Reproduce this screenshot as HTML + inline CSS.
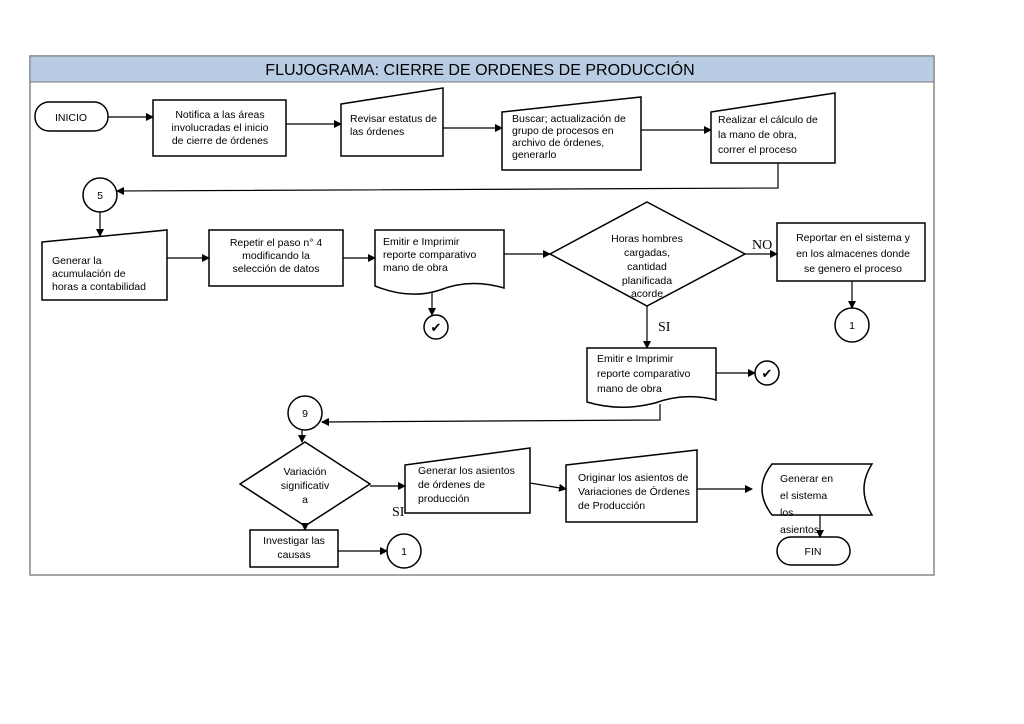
<!DOCTYPE html>
<html><head><meta charset="utf-8"><style>
html,body{margin:0;padding:0;background:#fff;width:1024px;height:724px;overflow:hidden}
svg text{font-family:"Liberation Sans",sans-serif;font-size:10.5px;fill:#000}
.s{font-family:"Liberation Serif",serif;font-size:14px}
</style></head><body>
<svg width="1024" height="724" viewBox="0 0 1024 724" xmlns="http://www.w3.org/2000/svg">
<defs><marker id="a" markerWidth="8" markerHeight="8" refX="7" refY="4" orient="auto" markerUnits="userSpaceOnUse"><path d="M0,0 L8,4 L0,8 z" fill="#000"/></marker></defs>
<rect x="30" y="56" width="904" height="519" fill="#fff" stroke="#888" stroke-width="1.5"/>
<rect x="30" y="56" width="904" height="26" fill="#b8cce4" stroke="#777" stroke-width="1"/>
<text x="480" y="75" text-anchor="middle" style="font-size:16px">FLUJOGRAMA: CIERRE DE ORDENES DE PRODUCCIÓN</text>
<g fill="#fff" stroke="#000" stroke-width="1.5">
<rect x="35" y="102" width="73" height="29" rx="14"/>
<rect x="153" y="100" width="133" height="56"/>
<path d="M341,104 L443,88 L443,156 L341,156 Z"/>
<path d="M502,112 L641,97 L641,170 L502,170 Z"/>
<path d="M711,112 L835,93 L835,163 L711,163 Z"/>
<circle cx="100" cy="195" r="17"/>
<path d="M42,242 L167,230 L167,300 L42,300 Z"/>
<rect x="209" y="230" width="134" height="56"/>
<path d="M375,230 L504,230 L504,288 Q470,278 440,290 Q410,300 375,286 Z"/>
<path d="M647,202 L745,254 L647,306 L550,254 Z"/>
<rect x="777" y="223" width="148" height="58"/>
<circle cx="852" cy="325" r="17"/>
<circle cx="436" cy="327" r="12"/>
<path d="M587,348 L716,348 L716,400 Q685,392 655,403 Q620,412 587,402 Z"/>
<circle cx="767" cy="373" r="12"/>
<circle cx="305" cy="413" r="17"/>
<path d="M305,442 L370,484 L305,526 L240,484 Z"/>
<path d="M405,465 L530,448 L530,513 L405,513 Z"/>
<path d="M566,465 L697,450 L697,522 L566,522 Z"/>
<path d="M772,464 L872,464 Q856,489 872,515 L772,515 Q752,489 772,464 Z"/>
<rect x="777" y="537" width="73" height="28" rx="14"/>
<rect x="250" y="530" width="88" height="37"/>
<circle cx="404" cy="551" r="17"/>
</g>
<g stroke="#000" stroke-width="1.2" fill="none">
<line x1="108" y1="117" x2="153" y2="117" marker-end="url(#a)"/>
<line x1="286" y1="124" x2="341" y2="124" marker-end="url(#a)"/>
<line x1="443" y1="128" x2="502" y2="128" marker-end="url(#a)"/>
<line x1="641" y1="130" x2="711" y2="130" marker-end="url(#a)"/>
<polyline points="778,163 778,188 117,191" marker-end="url(#a)"/>
<line x1="100" y1="212" x2="100" y2="236" marker-end="url(#a)"/>
<line x1="167" y1="258" x2="209" y2="258" marker-end="url(#a)"/>
<line x1="343" y1="258" x2="375" y2="258" marker-end="url(#a)"/>
<line x1="504" y1="254" x2="550" y2="254" marker-end="url(#a)"/>
<line x1="745" y1="254" x2="777" y2="254" marker-end="url(#a)"/>
<line x1="852" y1="281" x2="852" y2="308" marker-end="url(#a)"/>
<line x1="432" y1="292" x2="432" y2="315" marker-end="url(#a)"/>
<line x1="647" y1="306" x2="647" y2="348" marker-end="url(#a)"/>
<line x1="716" y1="373" x2="755" y2="373" marker-end="url(#a)"/>
<polyline points="660,404 660,420 322,422" marker-end="url(#a)"/>
<line x1="302" y1="430" x2="302" y2="442" marker-end="url(#a)"/>
<line x1="370" y1="486" x2="405" y2="486" marker-end="url(#a)"/>
<line x1="530" y1="483" x2="566" y2="489" marker-end="url(#a)"/>
<line x1="697" y1="489" x2="752" y2="489" marker-end="url(#a)"/>
<line x1="820" y1="515" x2="820" y2="537" marker-end="url(#a)"/>
<line x1="305" y1="526" x2="305" y2="530" marker-end="url(#a)"/>
<line x1="338" y1="551" x2="387" y2="551" marker-end="url(#a)"/>
</g>
<text x="71" y="121" text-anchor="middle">INICIO</text>
<g text-anchor="middle"><text x="220" y="118">Notifica a las áreas</text><text x="220" y="131">involucradas el inicio</text><text x="220" y="144">de cierre de órdenes</text></g>
<text x="350" y="122">Revisar estatus de</text><text x="350" y="135">las órdenes</text>
<g style="font-size:9.5px"><text x="512" y="122">Buscar; actualización de</text><text x="512" y="134">grupo de procesos en</text><text x="512" y="146">archivo de órdenes,</text><text x="512" y="158">generarlo</text></g>
<text x="718" y="123">Realizar el cálculo de</text><text x="718" y="138">la mano de obra,</text><text x="718" y="153">correr el proceso</text>
<text x="100" y="199" text-anchor="middle">5</text>
<text x="52" y="264">Generar la</text><text x="52" y="277">acumulación de</text><text x="52" y="290">horas a contabilidad</text>
<g text-anchor="middle"><text x="276" y="246">Repetir el paso n° 4</text><text x="276" y="259">modificando la</text><text x="276" y="272">selección de datos</text></g>
<text x="383" y="245">Emitir e Imprimir</text><text x="383" y="258">reporte comparativo</text><text x="383" y="271">mano de obra</text>
<g text-anchor="middle" style="font-size:9.5px"><text x="647" y="242">Horas hombres</text><text x="647" y="256">cargadas,</text><text x="647" y="270">cantidad</text><text x="647" y="284">planificada</text><text x="647" y="297">acorde</text></g>
<text x="752" y="249" class="s">NO</text>
<g text-anchor="middle"><text x="853" y="241">Reportar en el sistema y</text><text x="853" y="257">en los almacenes donde</text><text x="853" y="272">se genero el proceso</text></g>
<text x="852" y="329" text-anchor="middle">1</text>
<text x="436" y="332" text-anchor="middle" style="font-size:13px">✔</text>
<text x="658" y="331" class="s">SI</text>
<text x="597" y="362">Emitir e Imprimir</text><text x="597" y="377">reporte comparativo</text><text x="597" y="392">mano de obra</text>
<text x="767" y="378" text-anchor="middle" style="font-size:13px">✔</text>
<text x="305" y="417" text-anchor="middle">9</text>
<g text-anchor="middle" style="font-size:9.5px"><text x="305" y="475">Variación</text><text x="305" y="489">significativ</text><text x="305" y="503">a</text></g>
<text x="418" y="474">Generar los asientos</text><text x="418" y="488">de órdenes de</text><text x="418" y="502">producción</text>
<text x="392" y="516" class="s">SI</text>
<text x="578" y="481">Originar los asientos de</text><text x="578" y="495">Variaciones de Órdenes</text><text x="578" y="509">de Producción</text>
<g style="font-size:11.5px"><text x="780" y="482">Generar en</text><text x="780" y="499">el sistema</text><text x="780" y="516">los</text><text x="780" y="533">asientos</text></g>
<text x="813" y="555" text-anchor="middle">FIN</text>
<text x="294" y="544" text-anchor="middle">Investigar las</text><text x="294" y="558" text-anchor="middle">causas</text>
<text x="404" y="555" text-anchor="middle">1</text>
</svg>
</body></html>
